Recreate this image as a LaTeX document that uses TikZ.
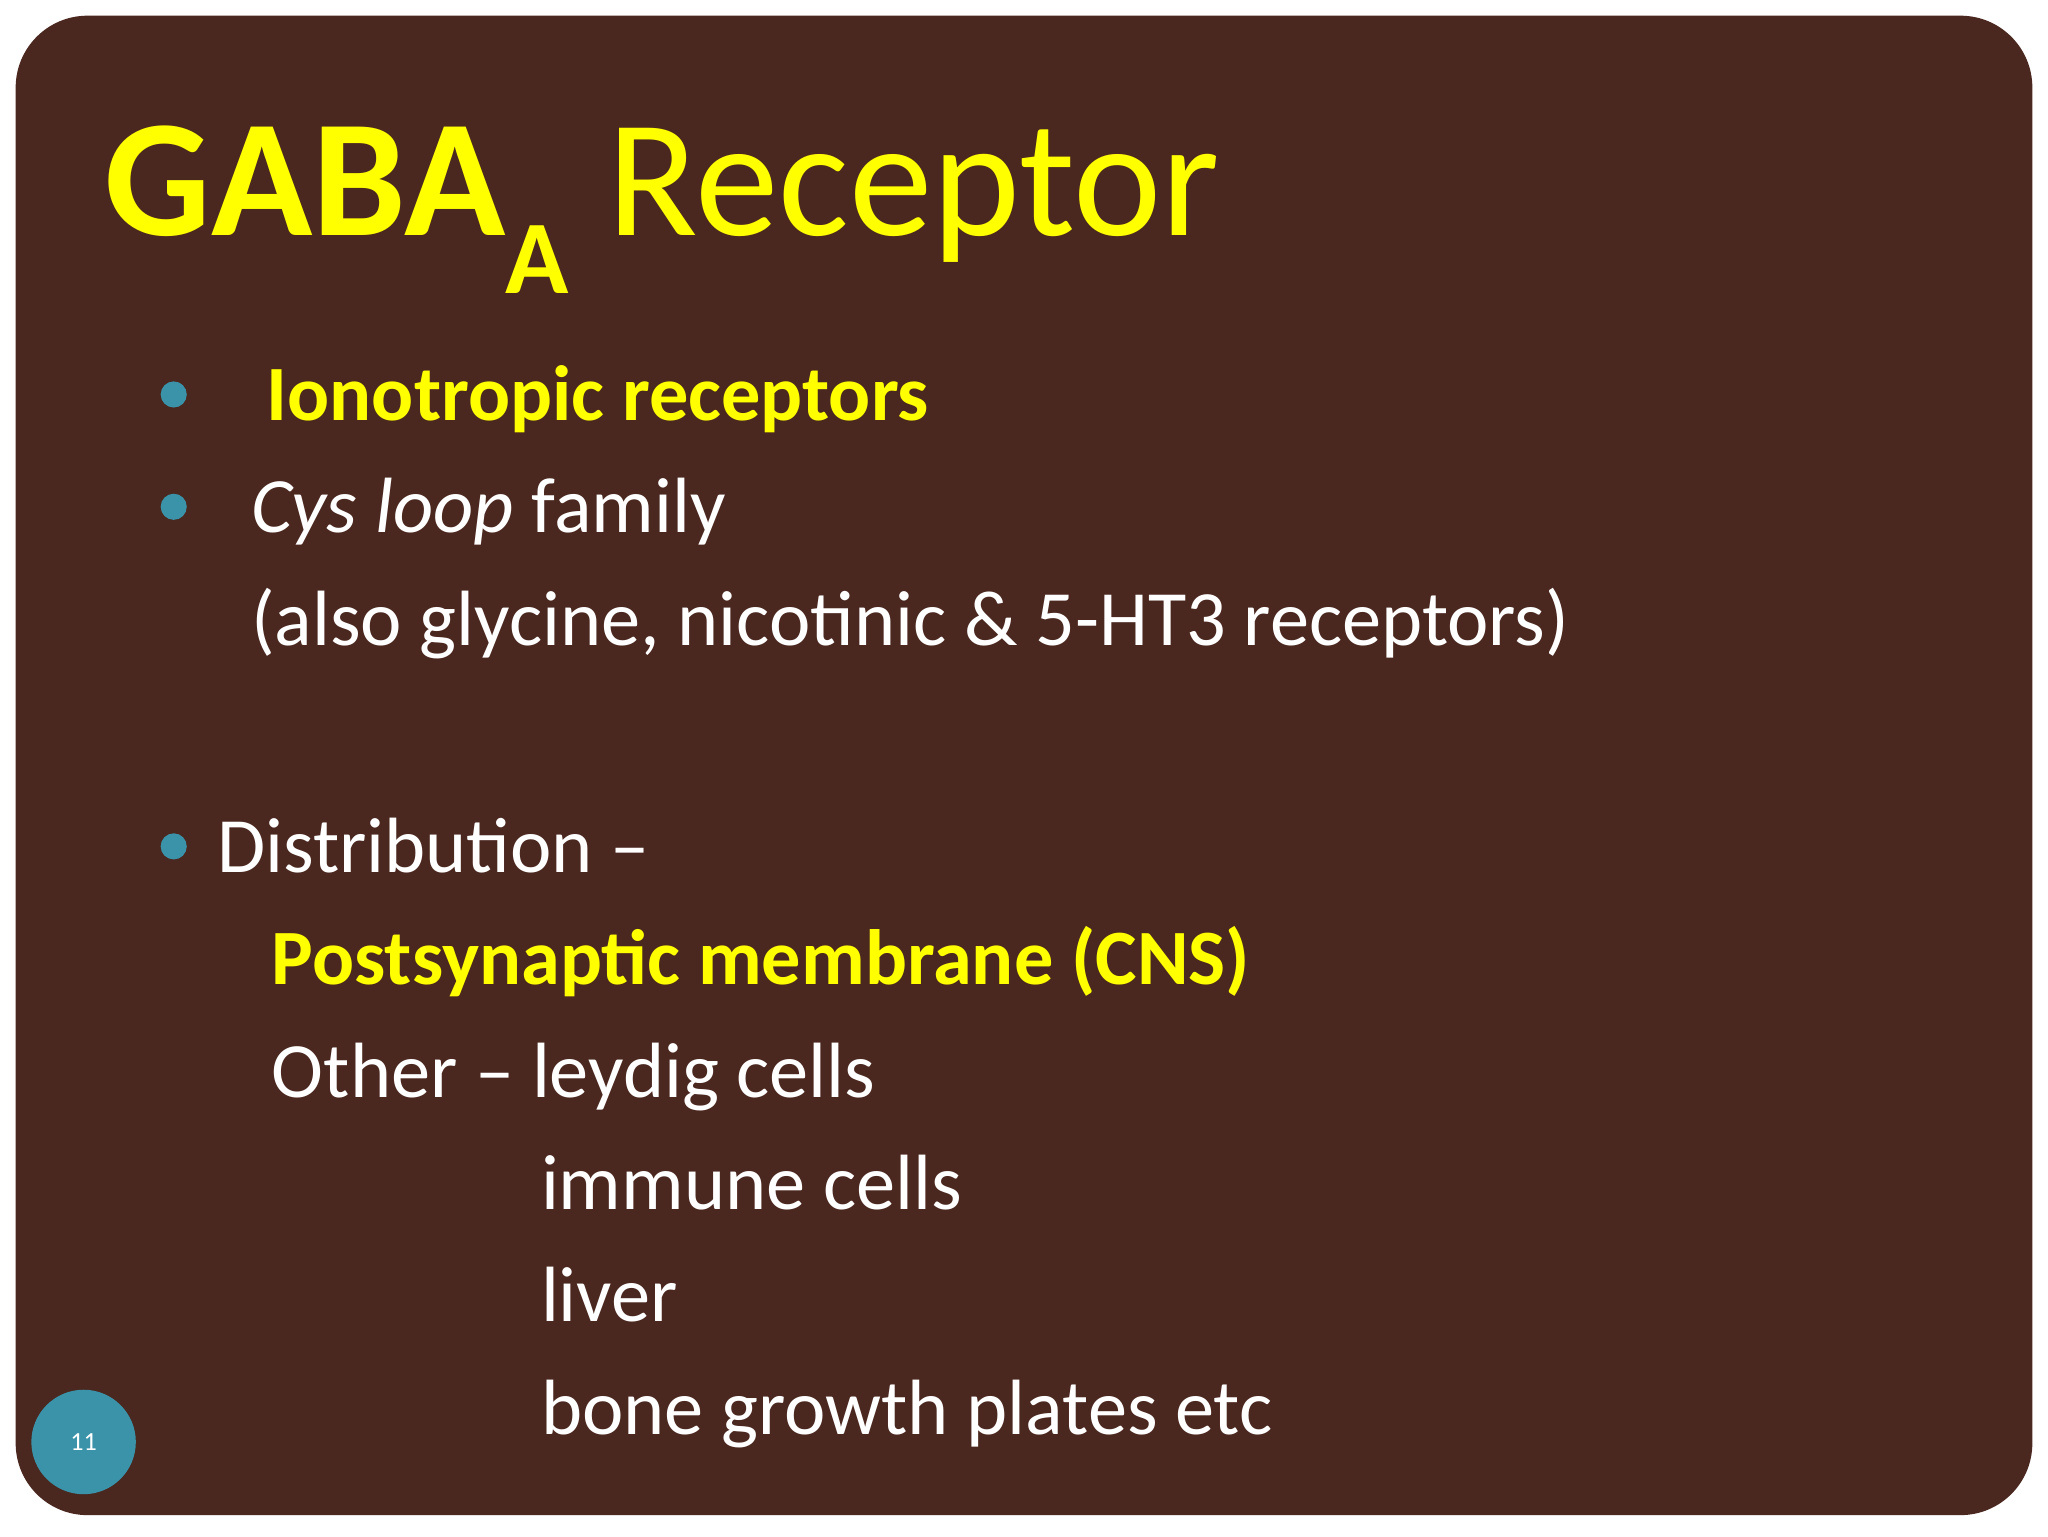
\documentclass[tikz,border=0pt]{standalone}
\usepackage{fontspec}
\setmainfont{Carlito}
\definecolor{bg}{HTML}{4A271F}
\definecolor{ttl}{HTML}{FFFF00}
\definecolor{teal}{HTML}{3A93A8}
\begin{document}
\begin{tikzpicture}[x=1pt,y=-1pt,
  txt/.style={anchor=base west,inner sep=0pt,font=\fontsize{60}{60}\selectfont,text=white},
  hl/.style={txt,text=ttl,font=\fontsize{60}{60}\selectfont\bfseries},
  bul/.style={circle,fill=teal,minimum size=20pt,inner sep=0pt}]
\useasboundingbox (0,0) rectangle (1568,1176);
\fill[white] (0,0) rectangle (1568,1176);
\fill[bg,rounded corners=55pt] (12,12) rectangle (1556,1160);
\node[anchor=base west,inner sep=0pt,text=ttl,font=\fontsize{128}{128}\selectfont] (title) at (80,180)
  {\textbf{GABA}\raisebox{-0.35em}{\fontsize{80}{80}\selectfont\textbf{A}} Receptor};
\node[bul] (b1) at (133,302) {};
\node[hl] (t1) at (204,322) {Ionotropic receptors};
\node[bul] (b2) at (133,388) {};
\node[txt] (t2) at (192,408) {\textit{Cys loop} family};
\node[txt] (t3) at (192,494) {(also glycine, nicotinic \& 5-HT3 receptors)};
\node[bul] (b3) at (133,648) {};
\node[txt] (t4) at (166,668) {Distribution –};
\node[hl] (t5) at (208,754) {Postsynaptic membrane (CNS)};
\node[txt] (t6) at (208,840) {Other – leydig cells};
\node[txt] (t7) at (414,926) {immune cells};
\node[txt] (t8) at (414,1012) {liver};
\node[txt] (t9) at (414,1098) {bone growth plates etc};
\node[circle,fill=teal,minimum size=80pt,inner sep=0pt,text=white,font=\fontsize{20}{20}\selectfont] (pg) at (64,1104) {11};
\end{tikzpicture}
\end{document}
